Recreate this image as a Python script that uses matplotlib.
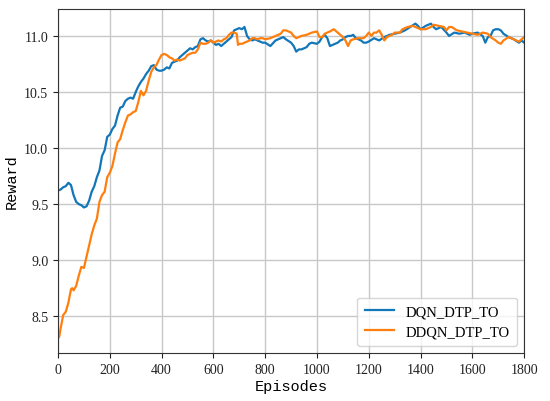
import numpy as np
import matplotlib
matplotlib.use('Agg')
import matplotlib.pyplot as plt

plt.rcParams['font.family'] = ['Liberation Serif', 'DejaVu Serif']

# DQN_DTP_TO
dqn_ep = [0, 10, 20, 30, 40, 50, 60, 70, 80, 90, 100, 110, 120, 130, 140, 150, 160, 170, 180, 190,
          200, 210, 220, 230, 240, 250, 260, 270, 280, 290, 300, 310, 320, 330, 340, 350, 360, 370, 380, 390,
          400, 410, 420, 430, 440, 450, 460, 470, 480, 490, 500, 510, 520, 530, 540, 550, 560, 570, 580, 590,
          600, 610, 620, 630, 640, 650, 660, 670, 680, 690, 700, 710, 720, 730, 740, 750, 760, 770, 780, 790,
          800, 820, 840, 860, 870, 880, 900, 910, 920, 930, 940, 950, 960, 970, 980, 1000, 1010, 1020, 1030, 1040,
          1050, 1060, 1070, 1080, 1090, 1100, 1110, 1120, 1130, 1140, 1150, 1160, 1170, 1180, 1190, 1200, 1220, 1240, 1260, 1280,
          1300, 1320, 1340, 1360, 1380, 1390, 1400, 1420, 1440, 1450, 1460, 1480, 1500, 1510, 1530, 1550, 1570, 1590, 1600, 1620,
          1640, 1650, 1660, 1670, 1680, 1690, 1700, 1710, 1720, 1740, 1760, 1780, 1790, 1800]
dqn_reward = [9.62, 9.63, 9.65, 9.66, 9.69, 9.67, 9.58, 9.52, 9.50, 9.49, 9.47, 9.48, 9.53, 9.61, 9.66, 9.74, 9.80, 9.93, 9.98, 10.10,
              10.12, 10.17, 10.20, 10.29, 10.36, 10.37, 10.42, 10.44, 10.45, 10.44, 10.50, 10.55, 10.59, 10.62, 10.66, 10.69, 10.73, 10.74, 10.70, 10.69,
              10.69, 10.70, 10.72, 10.71, 10.76, 10.77, 10.78, 10.81, 10.83, 10.85, 10.87, 10.89, 10.88, 10.90, 10.91, 10.97, 10.98, 10.96, 10.95, 10.96,
              10.94, 10.92, 10.93, 10.91, 10.93, 10.95, 10.97, 10.99, 11.05, 11.06, 11.07, 11.06, 11.08, 11.00, 10.97, 10.96, 10.97, 10.96, 10.95, 10.94,
              10.94, 10.91, 10.96, 10.98, 10.99, 10.97, 10.94, 10.91, 10.86, 10.88, 10.88, 10.89, 10.90, 10.93, 10.94, 10.93, 10.95, 10.99, 11.01, 10.98,
              10.91, 10.92, 10.93, 10.94, 10.96, 10.97, 10.99, 11.00, 11.00, 11.01, 10.98, 10.97, 10.96, 10.94, 10.94, 10.95, 10.98, 10.96, 10.99, 11.01,
              11.02, 11.03, 11.05, 11.08, 11.11, 11.09, 11.06, 11.09, 11.11, 11.08, 11.06, 11.08, 11.03, 11.00, 11.03, 11.02, 11.03, 11.01, 11.02, 11.03,
              11.00, 10.94, 10.99, 11.00, 11.05, 11.06, 11.06, 11.05, 11.02, 10.99, 10.97, 10.94, 10.96, 10.94]

# DDQN_DTP_TO
ddqn_ep = [0, 5, 10, 15, 20, 30, 40, 50, 55, 60, 70, 80, 90, 100, 110, 120, 130, 140, 150, 160,
           170, 180, 190, 200, 210, 220, 230, 240, 250, 260, 270, 280, 290, 300, 310, 320, 330, 340, 350, 360,
           370, 380, 390, 400, 410, 420, 430, 440, 450, 460, 470, 480, 490, 500, 510, 520, 530, 540, 550, 560,
           570, 580, 590, 600, 610, 620, 630, 640, 650, 660, 670, 680, 690, 695, 700, 710, 720, 730, 740, 750,
           760, 770, 780, 790, 800, 820, 840, 860, 870, 880, 890, 900, 910, 920, 940, 960, 980, 1000, 1010, 1020,
           1030, 1050, 1065, 1080, 1090, 1100, 1110, 1120, 1130, 1140, 1160, 1180, 1190, 1200, 1210, 1220, 1230, 1240, 1250, 1260,
           1270, 1290, 1300, 1320, 1330, 1350, 1370, 1390, 1400, 1420, 1440, 1450, 1470, 1490, 1500, 1510, 1520, 1540, 1560, 1580,
           1600, 1620, 1640, 1660, 1670, 1690, 1700, 1710, 1720, 1740, 1760, 1780, 1790, 1800]
ddqn_reward = [8.30, 8.32, 8.39, 8.45, 8.51, 8.54, 8.62, 8.74, 8.75, 8.73, 8.77, 8.86, 8.94, 8.93, 9.03, 9.13, 9.23, 9.31, 9.37, 9.52,
               9.58, 9.61, 9.74, 9.78, 9.84, 9.95, 10.05, 10.08, 10.16, 10.23, 10.29, 10.30, 10.32, 10.33, 10.41, 10.51, 10.47, 10.51, 10.60, 10.68,
               10.72, 10.74, 10.79, 10.83, 10.84, 10.83, 10.81, 10.80, 10.78, 10.79, 10.78, 10.79, 10.80, 10.83, 10.84, 10.85, 10.85, 10.88, 10.94, 10.93,
               10.93, 10.94, 10.96, 10.94, 10.95, 10.96, 10.95, 10.97, 10.98, 11.01, 11.03, 11.03, 11.02, 10.92, 10.93, 10.93, 10.94, 10.95, 10.96, 10.98,
               10.98, 10.97, 10.98, 10.98, 10.97, 10.98, 11.00, 11.02, 11.05, 11.05, 11.04, 11.03, 11.00, 10.98, 11.00, 11.01, 11.03, 11.04, 10.99, 10.99,
               11.02, 11.04, 11.06, 11.03, 11.01, 10.99, 10.96, 10.91, 10.96, 10.97, 10.98, 10.98, 11.00, 11.03, 11.00, 11.03, 11.03, 11.05, 11.01, 10.96,
               10.99, 11.01, 11.03, 11.03, 11.06, 11.08, 11.09, 11.07, 11.06, 11.06, 11.08, 11.10, 11.09, 11.08, 11.05, 11.08, 11.08, 11.05, 11.04, 11.03,
               11.02, 11.01, 11.03, 11.02, 10.99, 10.96, 10.94, 10.93, 10.96, 10.99, 10.97, 10.95, 10.97, 10.99]


def main():
    fig = plt.figure(figsize=(5.5, 4.02), dpi=100)
    ax = fig.add_axes([0.1055, 0.119, 0.8475, 0.856])

    ax.plot(dqn_ep, dqn_reward, color='#1277b8', linewidth=1.6, label='DQN_DTP_TO')
    ax.plot(ddqn_ep, ddqn_reward, color='#ff7f0e', linewidth=1.6, label='DDQN_DTP_TO')

    ax.set_xlim(0, 1800)
    ax.set_ylim(8.17, 11.24)
    ax.set_xticks(np.arange(0, 1801, 200))
    ax.set_yticks([8.5, 9.0, 9.5, 10.0, 10.5, 11.0])
    ax.set_yticklabels(['8.5', '9.0', '9.5', '10.0', '10.5', '11.0'])
    ax.tick_params(labelsize=10, colors='#222222', length=3.5)
    ax.grid(True, color='#c8c8c8', linewidth=1.0)
    for s in ax.spines.values():
        s.set_color('#333333')

    ax.set_xlabel('Episodes', fontsize=11, family=['Liberation Mono'], labelpad=2)
    ax.set_ylabel('Reward', fontsize=11, family=['Liberation Mono'], labelpad=4)
    ax.legend(loc='lower right', fontsize=10.5, handlelength=2.0, borderpad=0.5)

    fig.savefig('out.png', dpi=100)


if __name__ == '__main__':
    main()
